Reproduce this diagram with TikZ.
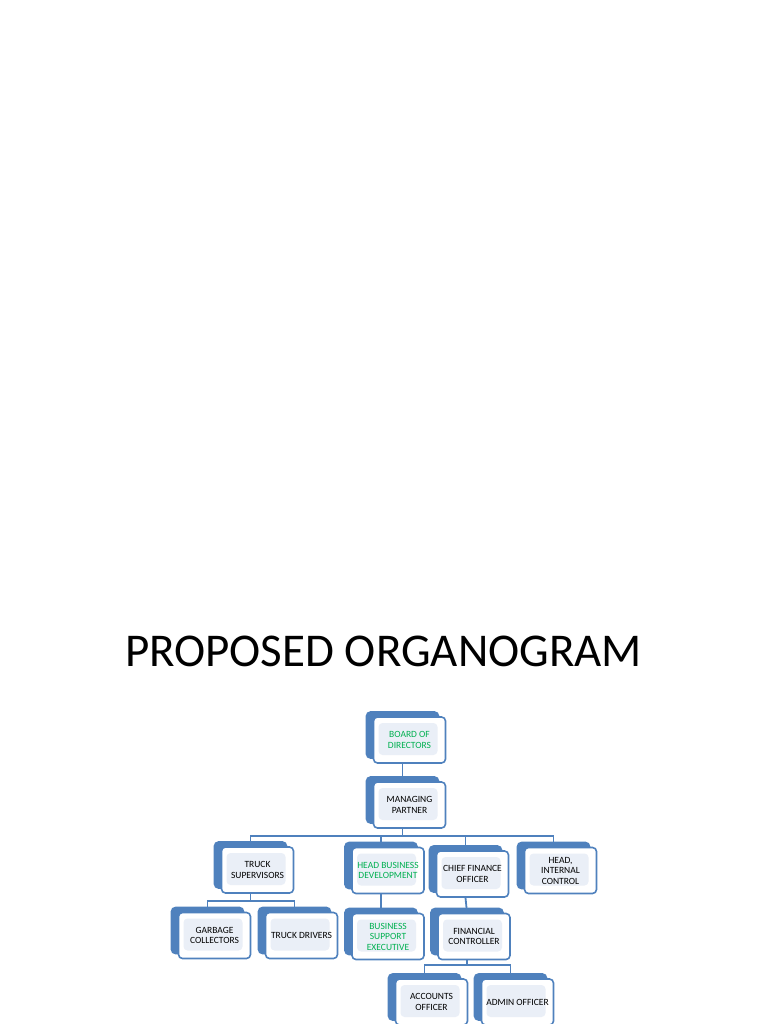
\documentclass[tikz,border=0pt]{standalone}
\usepackage{fontspec}
\setmainfont{Carlito}
\definecolor{boxblue}{HTML}{4F81BD}
\definecolor{boxlight}{HTML}{EAEFF7}
\definecolor{headgreen}{HTML}{00B050}
\begin{document}
\begin{tikzpicture}[x=1pt,y=-1pt,
  unit/.style={draw=boxblue, line width=1.6pt, rounded corners=4pt, fill=white,
    minimum width=72pt, minimum height=46pt, inner sep=1pt, align=center,
    font=\fontsize{9.5}{10.5}\selectfont,
    preaction={fill=boxblue, draw=boxblue, transform canvas={xshift=-7pt,yshift=5pt}},
    path picture={\fill[boxlight] ([shift={(5pt,-6pt)}]path picture bounding box.north west)
      rectangle ([shift={(-8pt,8pt)}]path picture bounding box.south east);}},
  green/.style={text=headgreen},
  link/.style={draw=boxblue, line width=1.8pt}]
\useasboundingbox (0,0) rectangle (768,1024);

\node (title) at (383.5,651) {\fontsize{47}{50}\selectfont PROPOSED ORGANOGRAM};

\node[unit, green] (bod) at (409.5,740) {BOARD OF\\DIRECTORS};
\node[unit] (mp) at (409.5,805) {MANAGING\\PARTNER};

\node[unit] (ts) at (257.5,870) {TRUCK\\SUPERVISORS};
\node[unit, green] (hbd) at (388,870.5) {HEAD BUSINESS\\DEVELOPMENT};
\node[unit] (cfo) at (472.5,874) {CHIEF FINANCE\\OFFICER};
\node[unit] (hic) at (560.5,870.5) {HEAD,\\INTERNAL\\CONTROL};

\node[unit] (gc) at (214.5,935.5) {GARBAGE\\COLLECTORS};
\node[unit] (td) at (301.5,935.5) {TRUCK DRIVERS};
\node[unit, green] (bse) at (388,936.5) {BUSINESS\\SUPPORT\\EXECUTIVE};
\node[unit] (fc) at (474,936.5) {FINANCIAL\\CONTROLLER};

\node[unit] (ao) at (431.5,1002) {ACCOUNTS\\OFFICER};
\node[unit] (adm) at (517.5,1002) {ADMIN OFFICER};

% connectors
\draw[link] ([xshift=-7pt]bod.south) -- ([xshift=-7pt]mp.north);
\draw[link] ([xshift=-7pt]mp.south) -- ++(0,7) -| ([xshift=-7pt]ts.north);
\draw[link] ([xshift=-7pt]mp.south) -- ++(0,7) -| ([xshift=-7pt]hbd.north);
\draw[link] ([xshift=-7pt]mp.south) -- ++(0,7) -| ([xshift=-7pt]cfo.north);
\draw[link] ([xshift=-7pt]mp.south) -- ++(0,7) -| ([xshift=-7pt]hic.north);

\draw[link] ([xshift=-7pt]ts.south) -- ++(0,7) -| ([xshift=-7pt]gc.north);
\draw[link] ([xshift=-7pt]ts.south) -- ++(0,7) -| ([xshift=-7pt]td.north);
\draw[link] ([xshift=-7pt]hbd.south) -- ([xshift=-7pt]bse.north);
\draw[link] ([xshift=-7pt]cfo.south) -- ([xshift=-7pt]fc.north);

\draw[link] ([xshift=-7pt]fc.south) -- ++(0,5) -| ([xshift=-7pt]ao.north);
\draw[link] ([xshift=-7pt]fc.south) -- ++(0,5) -| ([xshift=-7pt]adm.north);
\end{tikzpicture}
\end{document}
